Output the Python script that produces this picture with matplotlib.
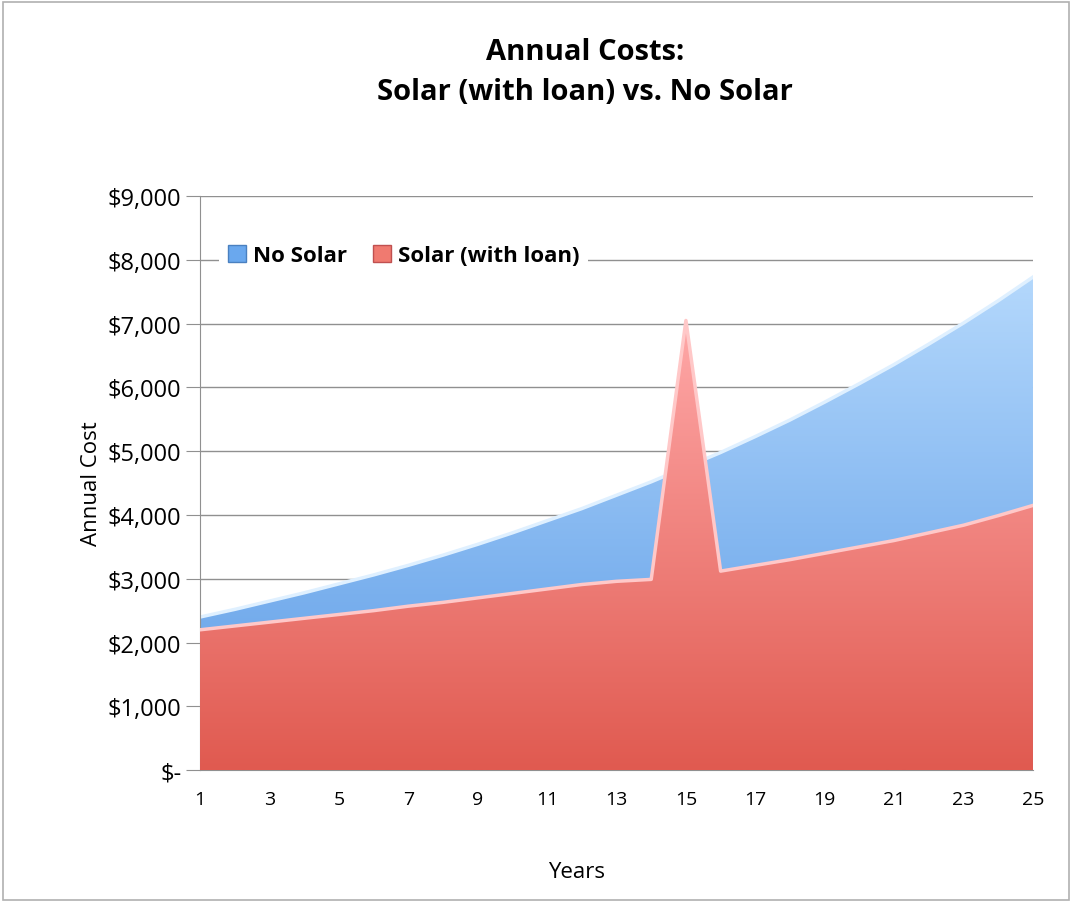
import numpy as np
import matplotlib.pyplot as plt
from matplotlib.patches import Polygon, Patch
from matplotlib.colors import LinearSegmentedColormap
from matplotlib.ticker import FuncFormatter

plt.rcParams['font.family'] = ['Open Sans', 'DejaVu Sans']

years = list(range(1, 26))
no_solar = [2400, 2520, 2650, 2780, 2920, 3060, 3210, 3370, 3540, 3720, 3910, 4100, 4310,
            4520, 4750, 4980, 5230, 5490, 5770, 6060, 6360, 6680, 7010, 7360, 7730]
solar = [2200, 2260, 2320, 2380, 2440, 2500, 2570, 2630, 2700, 2770, 2840, 2910, 2960,
         2990, 7050, 3120, 3210, 3300, 3400, 3500, 3600, 3720, 3840, 3990, 4150]

fig = plt.figure(figsize=(10.72, 9.04), dpi=100)
ax = fig.add_axes([0.1866, 0.147, 0.777, 0.635])
fig.patches.append(plt.Rectangle((0.003, 0.003), 0.994, 0.994, transform=fig.transFigure,
                                 fill=False, edgecolor='#b0b0b0', lw=1.2))

def grad_fill(y, top_col, bot_col, edge, z):
    x = np.array(years, dtype=float)
    verts = np.vstack([np.column_stack([x, y]), [[x[-1], 0], [x[0], 0]]])
    poly = Polygon(verts, closed=True, facecolor='none', edgecolor='none')
    ax.add_patch(poly)
    cmap = LinearSegmentedColormap.from_list('g', [bot_col, top_col])
    grad = np.linspace(0, 1, 256).reshape(-1, 1)
    im = ax.imshow(grad, extent=[1, 25, 0, max(y)], origin='lower', aspect='auto',
                   cmap=cmap, zorder=z)
    im.set_clip_path(poly)
    ax.plot(x, y, color=edge, lw=2.5, zorder=z + 0.1)

grad_fill(no_solar, '#b4d8fc', '#5a9ae6', '#dff0ff', 2)
grad_fill(solar, '#ffa8a8', '#e05a50', '#ffc8c8', 3)

ax.set_xlim(1, 25)
ax.set_ylim(0, 9000)
ax.set_yticks(range(0, 9001, 1000))
ax.yaxis.set_major_formatter(FuncFormatter(lambda v, p: '$-' if v == 0 else f'${v:,.0f}'))
ax.set_xticks(range(1, 26, 2))
ax.grid(axis='y', color='#909090', lw=1)
ax.set_axisbelow(True)
for s in ['top', 'right']:
    ax.spines[s].set_visible(False)
ax.spines['left'].set_color('#909090')
ax.spines['bottom'].set_color('#909090')
ax.tick_params(axis='y', labelsize=17, length=10, color='#909090', direction='out')
ax.tick_params(axis='x', labelsize=14, length=0, pad=14)
ax.set_ylabel('Annual Cost', fontsize=16)
fig.text(0.538, 0.035, 'Years', ha='center', va='center', fontsize=16)

fig.text(0.546, 0.92, 'Annual Costs:\nSolar (with loan) vs. No Solar', ha='center', va='center',
         fontsize=21, fontweight='bold', linespacing=1.5)

handles = [Patch(facecolor='#6aa8ee', edgecolor='#4a80c0'),
           Patch(facecolor='#f07a70', edgecolor='#c05050')]
leg = ax.legend(handles, ['No Solar', 'Solar (with loan)'], loc='upper left', ncol=2,
                bbox_to_anchor=(0.01, 0.95), frameon=True, fancybox=False, edgecolor='none',
                framealpha=1, prop={'weight': 'bold', 'size': 16}, handlelength=0.8,
                handleheight=0.8, handletextpad=0.3, columnspacing=1.2)
leg.set_zorder(5)

fig.savefig('out.png', dpi=100)
